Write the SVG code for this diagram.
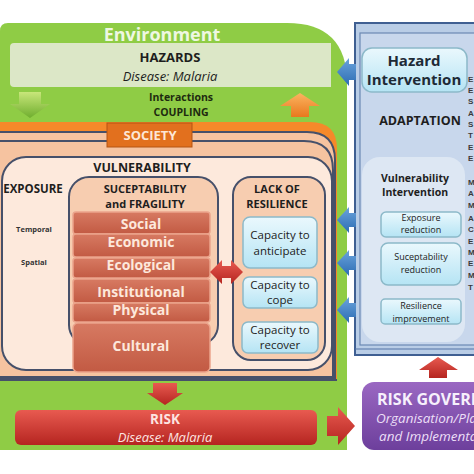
<svg xmlns="http://www.w3.org/2000/svg" width="474" height="474" viewBox="0 0 474 474">
<defs>
<linearGradient id="gCyan" x1="0" y1="0" x2="0" y2="1"><stop offset="0" stop-color="#eaf8fd"/><stop offset="1" stop-color="#b5e4f4"/></linearGradient>
<linearGradient id="gTile" x1="0" y1="0" x2="0" y2="1"><stop offset="0" stop-color="#d77a62"/><stop offset="1" stop-color="#c25a43"/></linearGradient>
<linearGradient id="gRed" x1="0" y1="0" x2="0" y2="1"><stop offset="0" stop-color="#e85a50"/><stop offset="1" stop-color="#b52520"/></linearGradient>
<linearGradient id="gPurple" x1="0" y1="0" x2="0" y2="1"><stop offset="0" stop-color="#9a68c2"/><stop offset="1" stop-color="#6d3f9c"/></linearGradient>
<linearGradient id="gBlue" x1="0" y1="0" x2="0" y2="1"><stop offset="0" stop-color="#6aa3dc"/><stop offset="1" stop-color="#2d6db3"/></linearGradient>
<linearGradient id="gLime" x1="0" y1="0" x2="0" y2="1"><stop offset="0" stop-color="#c8e67a"/><stop offset="1" stop-color="#6fae2e"/></linearGradient>
<linearGradient id="gOrangeArrow" x1="0" y1="0" x2="0" y2="1"><stop offset="0" stop-color="#fbb460"/><stop offset="1" stop-color="#e9781e"/></linearGradient>
<style>
.b{font-family:"Open Sans","Liberation Sans",Arial,sans-serif;font-weight:bold;text-anchor:middle}
.r{font-family:"Open Sans","Liberation Sans",Arial,sans-serif;text-anchor:middle}
.i{font-family:"Open Sans","Liberation Sans",Arial,sans-serif;font-style:italic;text-anchor:middle}
.s{text-anchor:start}
.lay{stroke:#46506a;stroke-width:2}
.cap{fill:url(#gCyan);stroke:#8cb9c9;stroke-width:1.5}
.tile{fill:url(#gTile);stroke:#eba48c;stroke-width:1.5}
.tt{font-family:"Open Sans","Liberation Sans",Arial,sans-serif;font-weight:bold;text-anchor:middle;fill:#fde8dc;font-size:14px}
.ct{font-family:"Open Sans","Liberation Sans",Arial,sans-serif;text-anchor:middle;fill:#222;font-size:11.5px}
.vt{font-family:"Open Sans","Liberation Sans",Arial,sans-serif;text-anchor:middle;fill:#222;font-size:9px}
.tiny{font-family:"Liberation Sans",Arial,sans-serif;font-weight:bold;font-size:8px;fill:#3a3a3a}
</style>
</defs>
<rect width="474" height="474" fill="#ffffff"/>

<g id="environment">
<path d="M0,31 Q0,23 8,23 L287,23 Q347,23 347,83 L347,450 L0,450 Z" fill="#8fcc45"/>
<text class="b" x="162" y="41" font-size="18" fill="#eef7e2">Environment</text>
</g>

<g id="hazards">
<path d="M14,43 L331,43 L331,87 L14,87 Q10,87 10,83 L10,47 Q10,43 14,43 Z" fill="#dce7c7"/>
<text class="b" x="170" y="62" font-size="13" fill="#1e1e1e">HAZARDS</text>
<text class="i" x="170" y="81" font-size="13" fill="#1e1e1e">Disease: Malaria</text>
</g>

<g id="coupling">
<text class="b" x="181" y="101" font-size="10.5" fill="#1e2a10">Interactions</text>
<text class="b" x="181" y="116" font-size="10.5" fill="#1e2a10">COUPLING</text>
</g>

<g id="society">
<path d="M-5,122 L310,122 Q337,122 337,149 L337,380 L-5,380 Z" fill="#f5892a"/>
<path d="M-20,132 L307,132 Q335,132 335,160 L335,379 L-20,379 Z" fill="#f6c3a0" class="lay"/>
<path d="M-5,141 L304,141 Q333,141 333,170 L333,377 L-5,377 Z" fill="#f6c3a0" class="lay"/>
<line x1="-5" y1="380" x2="337" y2="380" stroke="#46506a" stroke-width="2"/>
<rect x="107" y="123" width="85" height="24" fill="#e2701e" stroke="#b55413" stroke-width="1"/>
<text class="b" x="150" y="140" font-size="13" fill="#fde7d6">SOCIETY</text>
</g>

<g id="vulnerability">
<rect x="2" y="157" width="330" height="213" rx="24" fill="#fde9dc" class="lay"/>
<text class="b" x="142" y="172" font-size="12.5" fill="#1e1e1e">VULNERABILITY</text>
</g>

<g id="exposure">
<text class="b" x="33" y="193" font-size="11.5" fill="#1e1e1e">EXPOSURE</text>
<text class="b" x="34" y="232" font-size="7.5" fill="#333">Temporal</text>
<text class="b" x="34" y="265" font-size="7.5" fill="#333">Spatial</text>
</g>

<g id="susceptibility">
<rect x="69" y="177" width="149" height="168" rx="20" fill="#f7cdb0" class="lay"/>
<text class="b" x="145" y="193" font-size="11" fill="#1e1e1e">SUCEPTABILITY</text>
<text class="b" x="145" y="208" font-size="11" fill="#1e1e1e">and FRAGILITY</text>
<rect class="tile" x="73" y="212" width="137" height="22" rx="3"/>
<text class="tt" x="141" y="229">Social</text>
<rect class="tile" x="73" y="234" width="137" height="23" rx="3"/>
<text class="tt" x="141" y="247">Economic</text>
<rect class="tile" x="73" y="258" width="137" height="20" rx="3"/>
<text class="tt" x="141" y="270">Ecological</text>
<rect class="tile" x="73" y="279" width="137" height="24" rx="3"/>
<text class="tt" x="141" y="297">Institutional</text>
<rect class="tile" x="73" y="303" width="137" height="19" rx="3"/>
<text class="tt" x="141" y="315">Physical</text>
<rect class="tile" x="73" y="323" width="137" height="49" rx="5"/>
<text class="tt" x="141" y="351">Cultural</text>
</g>

<g id="lack-of-resilience">
<rect x="233" y="177" width="92" height="183" rx="18" fill="#f7cdb0" class="lay"/>
<text class="b" x="277" y="193" font-size="11" fill="#1e1e1e">LACK OF</text>
<text class="b" x="277" y="208" font-size="11" fill="#1e1e1e">RESILIENCE</text>
</g>

<g id="cap-anticipate">
<rect class="cap" x="243" y="217" width="74" height="51" rx="7"/>
<text class="ct" x="280" y="239">Capacity to</text>
<text class="ct" x="280" y="255">anticipate</text>
</g>
<g id="cap-cope">
<rect class="cap" x="243" y="277" width="74" height="31" rx="6"/>
<text class="ct" x="280" y="289">Capacity to</text>
<text class="ct" x="280" y="304">cope</text>
</g>
<g id="cap-recover">
<rect class="cap" x="242" y="322" width="76" height="31" rx="6"/>
<text class="ct" x="280" y="334">Capacity to</text>
<text class="ct" x="280" y="349">recover</text>
</g>

<g id="risk">
<rect x="15" y="410" width="302" height="35" rx="6" fill="url(#gRed)"/>
<text class="b" x="165" y="424" font-size="13.5" fill="#fde4e0">RISK</text>
<text class="i" x="165" y="442" font-size="13" fill="#fde4e0">Disease: Malaria</text>
</g>

<g id="adaptation-panel">
<rect x="355" y="23" width="130" height="332" fill="#b9cde6" stroke="#3f5f92" stroke-width="2"/>
<rect x="360" y="33" width="125" height="312" fill="#c8d7ec" stroke="#6c89b4" stroke-width="1.2"/>
<line x1="355" y1="349" x2="485" y2="349" stroke="#5575a5" stroke-width="1.2"/>
<text class="b" x="420" y="125" font-size="12.5" fill="#1e1e1e">ADAPTATION</text>
<text class="tiny" x="468" y="82">E</text>
<text class="tiny" x="468" y="93">E</text>
<text class="tiny" x="468" y="104">S</text>
<text class="tiny" x="468" y="116">A</text>
<text class="tiny" x="468" y="127">S</text>
<text class="tiny" x="468" y="138">T</text>
<text class="tiny" x="468" y="150">E</text>
<text class="tiny" x="468" y="161">E</text>
<text class="tiny" x="468" y="185">M</text>
<text class="tiny" x="468" y="196">A</text>
<text class="tiny" x="468" y="208">M</text>
<text class="tiny" x="468" y="221">A</text>
<text class="tiny" x="468" y="232">C</text>
<text class="tiny" x="468" y="244">E</text>
<text class="tiny" x="468" y="255">M</text>
<text class="tiny" x="468" y="266">E</text>
<text class="tiny" x="468" y="278">M</text>
<text class="tiny" x="468" y="290">T</text>
</g>

<g id="hazard-intervention">
<rect class="cap" x="362" y="48" width="105" height="44" rx="10"/>
<text class="b" x="414" y="66" font-size="15" fill="#1e2a36" font-weight="600">Hazard</text>
<text class="b" x="414" y="85" font-size="15" fill="#1e2a36" font-weight="600">Intervention</text>
</g>

<g id="vulnerability-intervention">
<rect x="362" y="157" width="103" height="185" rx="18" fill="#dde7f3"/>
<text class="b" x="415" y="182" font-size="10.5" fill="#1e1e1e">Vulnerability</text>
<text class="b" x="415" y="196" font-size="10.5" fill="#1e1e1e">Intervention</text>
<rect class="cap" x="381" y="212" width="80" height="25" rx="5"/>
<text class="vt" x="421" y="221">Exposure</text>
<text class="vt" x="421" y="233">reduction</text>
<rect class="cap" x="381" y="243" width="80" height="42" rx="7"/>
<text class="vt" x="421" y="260">Suceptability</text>
<text class="vt" x="421" y="273">reduction</text>
<rect class="cap" x="381" y="299" width="80" height="25" rx="4"/>
<text class="vt" x="421" y="309">Resilience</text>
<text class="vt" x="421" y="321.5">improvement</text>
</g>

<g id="risk-governance">
<rect x="362" y="382" width="130" height="68" rx="12" fill="url(#gPurple)"/>
<text class="b s" x="377" y="405" font-size="16" fill="#f7f0fc">RISK GOVERNANCE</text>
<text class="i s" x="376" y="423" font-size="13.5" fill="#ecdff7">Organisation/Planning</text>
<text class="i s" x="379" y="441" font-size="13.5" fill="#ecdff7">and Implementation</text>
</g>

<g id="connectors">
<polygon points="19,92 41,92 41,104 50,104 30,118 10,104 19,104" fill="url(#gLime)"/>
<polygon points="300,93 320,106 309,106 309,117 291,117 291,106 280,106" fill="url(#gOrangeArrow)"/>
<polygon points="337,72 349,58 349,64 356,64 356,80 349,80 349,86" fill="url(#gBlue)"/>
<polygon points="337,220 349,207 349,213 356,213 356,227 349,227 349,233" fill="url(#gBlue)"/>
<polygon points="337,263 349,250 349,256 356,256 356,270 349,270 349,276" fill="url(#gBlue)"/>
<polygon points="337,310 349,297 349,303 356,303 356,317 349,317 349,323" fill="url(#gBlue)"/>
<polygon points="210,272 222,260 222,266 231,266 231,260 243,272 231,284 231,278 222,278 222,284" fill="url(#gRed)"/>
<polygon points="153,383 177,383 177,393 183,393 165,405 147,393 153,393" fill="url(#gRed)"/>
<polygon points="327,416 338,416 338,407 355,426 338,445 338,436 327,436" fill="url(#gRed)"/>
<polygon points="438,357 458,370 447,370 447,378 429,378 429,370 419,370" fill="url(#gRed)"/>
</g>
</svg>
